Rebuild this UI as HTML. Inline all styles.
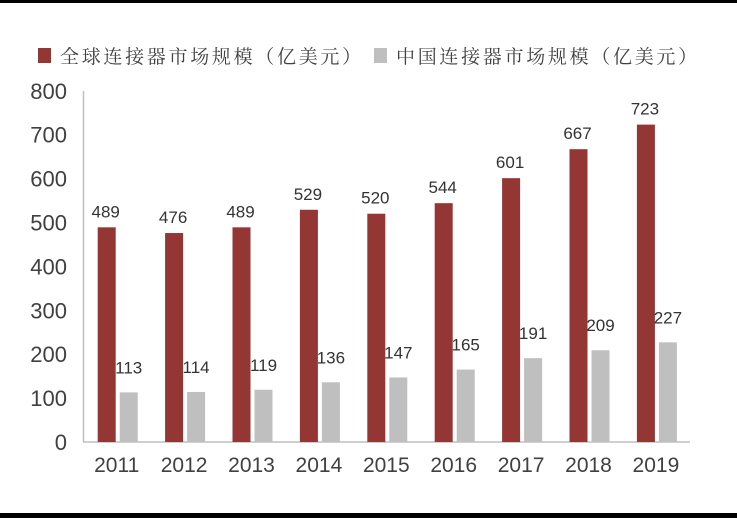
<!DOCTYPE html><html><head><meta charset="utf-8"><style>
body{margin:0;background:#fff;}
</style></head><body>
<svg width="737" height="518" xmlns="http://www.w3.org/2000/svg" style="display:block">
<rect x="0" y="0" width="737" height="3" fill="#000"/>
<rect x="0" y="513" width="737" height="5" fill="#000"/>
<rect x="38" y="48" width="13" height="15" fill="#943634"/>
<text x="60" y="63" font-family="Noto Serif CJK SC, serif" font-size="19" letter-spacing="2.7" fill="#404040">全球连接器市场规模（亿美元）</text>
<rect x="374" y="48" width="13" height="15" fill="#bfbfbf"/>
<text x="396" y="63" font-family="Noto Serif CJK SC, serif" font-size="19" letter-spacing="2.7" fill="#404040">中国连接器市场规模（亿美元）</text>
<line x1="83.5" y1="91" x2="83.5" y2="442" stroke="#bfbfbf" stroke-width="1.5"/>
<line x1="83" y1="442" x2="690" y2="442" stroke="#bfbfbf" stroke-width="1.5"/>
<g font-family="Liberation Sans, sans-serif" font-size="22" fill="#404040" text-anchor="end" id="yt"></g>
<g id="bars"></g>
<script>
var yt=document.getElementById('yt'),b=document.getElementById('bars'),ns='http://www.w3.org/2000/svg';
for(var v=0;v<=800;v+=100){var t=document.createElementNS(ns,'text');t.setAttribute('x',67);t.setAttribute('y',442-v*0.439+8);t.textContent=v;yt.appendChild(t);}
var g=[489,476,489,529,520,544,601,667,723],c=[113,114,119,136,147,165,191,209,227];
function el(n,a,txt){var e=document.createElementNS(ns,n);for(var k in a)e.setAttribute(k,a[k]);if(txt!==undefined)e.textContent=txt;b.appendChild(e);}
for(var i=0;i<9;i++){var cx=116.7+i*67.4;
var yg=442-g[i]*0.439,yc=442-c[i]*0.439;
el('rect',{x:cx-19,y:yg,width:18,height:442-yg,fill:'#943634'});
el('rect',{x:cx+3,y:yc,width:18,height:442-yc,fill:'#bfbfbf'});
el('text',{x:cx-11,y:yg-10,'font-family':'Liberation Sans, sans-serif','font-size':'17','fill':'#333','text-anchor':'middle'},g[i]);
el('text',{x:cx+12,y:yc-19,'font-family':'Liberation Sans, sans-serif','font-size':'17','fill':'#333','text-anchor':'middle'},c[i]);
el('text',{x:cx,y:472,'font-family':'Liberation Sans, sans-serif','font-size':'21','fill':'#404040','text-anchor':'middle'},2011+i);
}
</script>
</svg>
</body></html>
